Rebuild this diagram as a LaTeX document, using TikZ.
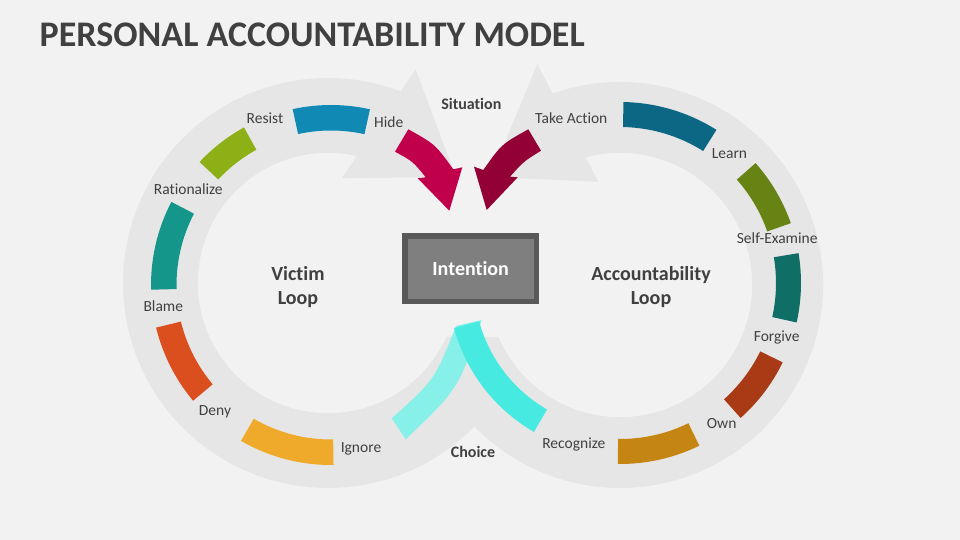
\documentclass[tikz,border=0pt]{standalone}
\usepackage{fontspec}
\setmainfont{Carlito}[Ligatures=NoCommon]
\usetikzlibrary{calc}
\definecolor{bg}{HTML}{F2F2F2}
\definecolor{ring}{HTML}{E6E6E6}
\definecolor{txt}{HTML}{404040}
\definecolor{boxline}{HTML}{595959}
\definecolor{boxfill}{HTML}{7F7F7F}
\definecolor{cBlue}{HTML}{108AB4}
\definecolor{cGreen}{HTML}{8CB015}
\definecolor{cTeal}{HTML}{14978A}
\definecolor{cOrange}{HTML}{DB4E1D}
\definecolor{cYellow}{HTML}{F0AA2B}
\definecolor{cLightCyan}{HTML}{87F0E9}
\definecolor{cCyan}{HTML}{47EAE0}
\definecolor{cGold}{HTML}{C48512}
\definecolor{cRust}{HTML}{A83A15}
\definecolor{cDarkTeal}{HTML}{0F6E66}
\definecolor{cOlive}{HTML}{678313}
\definecolor{cDarkBlue}{HTML}{0C6785}
\definecolor{cPink}{HTML}{C1004B}
\definecolor{cDarkRed}{HTML}{920036}
% ring segment: centre x, centre y, inner r, outer r, start angle, end angle, colour
\newcommand\ringseg[7]{%
  \fill[#7] ($(#1,#2)+(#5:#4)$) arc[start angle=#5,end angle=#6,radius=#4]
    -- ($(#1,#2)+(#6:#3)$) arc[start angle=#6,end angle=#5,radius=#3] -- cycle;}
\begin{document}
\begin{tikzpicture}[x=1pt,y=1pt,
  lbl/.style={font=\fontsize{15.5}{18}\selectfont, text=txt, inner sep=0pt},
  blbl/.style={font=\bfseries\fontsize{16}{19}\selectfont, text=txt, inner sep=0pt},
  bigl/.style={font=\bfseries\fontsize{20}{24.5}\selectfont, text=txt, inner sep=0pt, align=center},
  ringfill/.style={fill=ring}]
\useasboundingbox (0,0) rectangle (960,-540);
\fill[bg] (0,0) rectangle (960,-540);
\coordinate (lc) at (328,-283);
\coordinate (rc) at (620,-285);
% grey bands
\fill[ringfill] ($(lc)+(69:205)$) arc[start angle=69,end angle=344.72,radius=205]
  -- ($(lc)+(335.46:130)$) arc[start angle=335.46,end angle=77.2,radius=130] -- cycle;
\fill[ringfill] ($(rc)+(109.6:203)$) arc[start angle=109.6,end angle=-165.16,radius=203]
  -- ($(rc)+(-156.8:132)$) arc[start angle=-156.8,end angle=105,radius=132] -- cycle;
\fill[bg] (lc) circle[radius=130];
\fill[bg] (rc) circle[radius=132];
% notch below the crossing
\fill[ringfill] (380,-481.3) -- (473,-412) -- (566,-480.7) -- (473,-424) -- cycle;
% grey arrow heads
\fill[ringfill] (415.7,-69.3) -- (456,-177) -- (341.7,-178.3) -- cycle;
\fill[ringfill] (537.3,-64) -- (490.5,-177) -- (598.3,-181.7) -- cycle;
% left segments
\ringseg{331}{-285}{154.5}{180}{77.5}{102.3}{cBlue}
\ringseg{331}{-285}{154.5}{180}{118.9}{136.9}{cGreen}
\ringseg{331}{-285}{154.5}{180}{152.5}{181.5}{cTeal}
\ringseg{331}{-285}{154.5}{180}{193.7}{220}{cOrange}
\ringseg{331}{-285}{154.5}{180}{240}{270.8}{cYellow}
% right segments
\ringseg{620}{-283}{156}{181}{57.8}{88.9}{cDarkBlue}
\ringseg{620}{-283}{156}{181}{19.3}{41.5}{cOlive}
\ringseg{620}{-283}{156}{181}{-12.6}{9.5}{cDarkTeal}
\ringseg{620}{-283}{156}{181}{-48.2}{-26}{cRust}
\ringseg{620}{-283}{156}{181}{-90.7}{-64}{cGold}
% choice bars
\fill[cLightCyan] (456,-326) -- (481.7,-320) .. controls (458.3,-389) .. (405.7,-439.3)
  -- (391.7,-418.3) .. controls (434.8,-379.8) .. (456,-326) -- cycle;
\ringseg{620}{-283}{146}{172}{195.2}{240}{cCyan}
% situation arrows
\fill[cPink] (408.3,-129.3) .. controls (435.2,-144.3) .. (453.3,-169.3) -- (462.3,-167.3)
  -- (449.3,-210.7) -- (417.7,-178.3) -- (425.7,-177.3) .. controls (413,-161.5) .. (395,-151.7) -- cycle;
\fill[cDarkRed] (528.3,-129.3) .. controls (501.4,-144.3) .. (483.3,-170) -- (474,-166.7)
  -- (486.7,-210) -- (517.7,-177.3) -- (510,-176.7) .. controls (523.6,-161.5) .. (541,-150.7) -- cycle;
% centre box
\node[draw=boxline, line width=5.3pt, fill=boxfill, minimum width=131.4pt, minimum height=65.4pt,
  inner sep=0pt, text=white, font=\bfseries\fontsize{20}{24}\selectfont] (intention) at (470.65,-268.65) {Intention};
% title
\node[anchor=base west, inner sep=0pt, text=txt, font=\bfseries\fontsize{36}{40}\selectfont] (title) at (39.5,-46.7) {PERSONAL ACCOUNTABILITY MODEL};
% labels
\node[blbl] (situation) at (471.3,-104) {Situation};
\node[blbl] (choice) at (473,-452.3) {Choice};
\node[bigl] (victim) at (298,-287) {Victim\\Loop};
\node[bigl] (account) at (651,-287) {Accountability\\Loop};
\node[lbl] (resist) at (265,-118.3) {Resist};
\node[lbl] (hide) at (388.7,-122) {Hide};
\node[lbl] (rational) at (188.3,-189) {Rationalize};
\node[lbl] (blame) at (163.3,-306) {Blame};
\node[lbl] (deny) at (215,-412) {Deny};
\node[lbl] (ignore) at (361,-449) {Ignore};
\node[lbl] (takeaction) at (571.3,-118.3) {Take Action};
\node[lbl] (learn) at (729.5,-153.3) {Learn};
\node[lbl] (selfexam) at (777.2,-238.3) {Self-Examine};
\node[lbl] (forgive) at (776.7,-337) {Forgive};
\node[lbl] (own) at (721.7,-423.3) {Own};
\node[lbl] (recognize) at (573.8,-444.3) {Recognize};
\end{tikzpicture}
\end{document}
